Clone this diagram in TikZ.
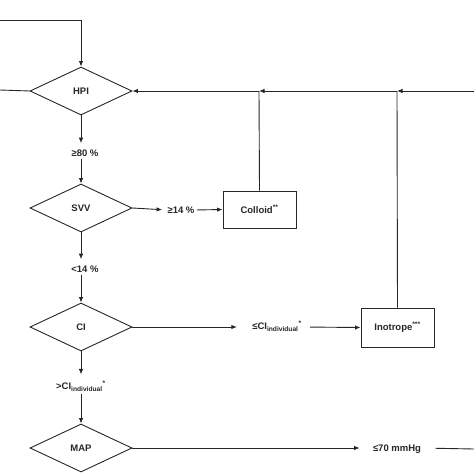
\documentclass[tikz,border=0pt]{standalone}
\usepackage{fontspec}
\setmainfont{Liberation Sans}
\usetikzlibrary{shapes.geometric, arrows.meta}

\begin{document}
\begin{tikzpicture}[x=1pt, y=-1pt, line width=0.9pt, draw=black!85]
\tikzset{ >={Latex[length=5.5pt, width=4.5pt]},
  every node/.style={font=\fontsize{9.5}{11}\selectfont\bfseries, text=black!85},
  test/.style={draw, diamond, aspect=2, inner sep=0pt, minimum width=102pt, minimum height=48pt},
  act/.style={draw, inner sep=0pt, minimum width=73pt},
  lbl/.style={inner sep=0pt},
}

\useasboundingbox (0,0) rectangle (474,474);

%\draw [lightgray, dashed](0,0) grid[step=20] (474,474);

\node [test] (HPI) at (81, 91) {HPI};
\node [test] (SVV) at (81,208) {SVV};
\node [test] (CI)  at (81,327) {CI};
\node [test] (MAP) at (81,448) {MAP};

\node [act, minimum height=37pt] (Col) at (259.5,209.5) {Colloid\textsuperscript{**}};
\node [act, minimum height=39pt] (Ino) at (397.5,327.5) {Inotrope\textsuperscript{***}};

\node [lbl] (hi80)  at ( 85,153) {≥80 \%};
\node [lbl] (hi14)  at (181,210) {≥14 \%};
\node [lbl] (lo14)  at ( 85,269) {<14 \%};
\node [lbl] (loCI)  at (277,326) {≤CI\textsubscript{individual}\textsuperscript{*}};
\node [lbl] (hiCI)  at ( 81,386) {>CI\textsubscript{individual}\textsuperscript{*}};
\node [lbl] (lo70)  at (397,449) {≤70 mmHg};

\coordinate (topin)  at (  0, 20);
\coordinate (leftin) at (  0, 90);
\coordinate (rin)    at (474, 91);
\coordinate (jCol)   at (259, 91);
\coordinate (jIno)   at (397, 91);
\coordinate (rout)   at (474,449);

% loop back into HPI
\draw [->] (topin) -| (HPI.north);
\draw (leftin) -- (HPI.west);
\draw [->] (rin) -- (jIno);
\draw [->] (jIno) -- (jCol);
\draw [->] (jCol) -- (HPI.east);
\draw (Col.north) -- (jCol);
\draw (Ino.north) -- (jIno);

% main column
\draw [->, shorten >=6pt] (HPI.south) -- (HPI.south |- hi80.north);
\draw [->, shorten <=2.5pt] (HPI.south |- hi80.south) -- (SVV.north);
\draw [->, shorten >=6pt] (SVV.south) -- (SVV.south |- lo14.north);
\draw [->, shorten <=2.5pt] (SVV.south |- lo14.south) -- (CI.north);
\draw [->, shorten >=6pt] (CI.south) -- (hiCI.north);
\draw [->, shorten <=2.5pt] (hiCI.south) -- (MAP.north);

% side branches
\draw [->, shorten >=5pt] (SVV.east) -- (hi14.west);
\draw [->, shorten <=2pt] (hi14.east) -- (Col.west);
\draw [->, shorten >=15pt] (CI.east) -- (CI.east -| loCI.west);
\draw [->, shorten <=8pt] (CI.east -| loCI.east) -- (Ino.west);
\draw [->, shorten >=13pt] (MAP.east) -- (MAP.east -| lo70.west);
\draw [shorten <=14pt] (MAP.east -| lo70.east) -- (rout);

\end{tikzpicture}
\end{document}
